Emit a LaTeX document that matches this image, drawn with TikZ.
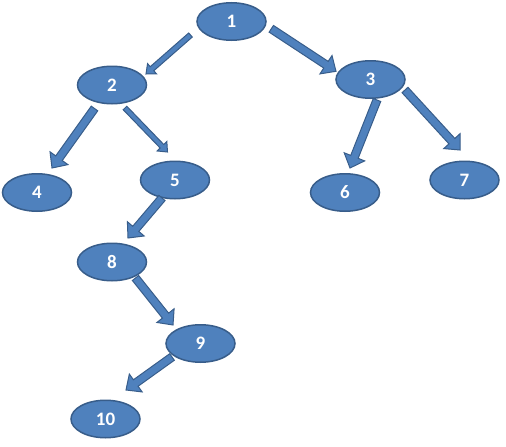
\documentclass[tikz,border=0pt]{standalone}
\usepackage{fontspec}
\setmainfont{Carlito}
\usetikzlibrary{shapes.geometric,calc}
\definecolor{nodefill}{HTML}{4F81BD}
\definecolor{nodeline}{HTML}{385D8A}
\tikzset{
  tnode/.style={ellipse, fill=nodefill, draw=nodeline, line width=1.5pt,
    minimum width=69pt, minimum height=37.5pt, inner sep=0pt,
    text=white, font=\bfseries\fontsize{19}{22}\selectfont},
  conn/.style={fill=nodefill, draw=nodeline, line width=1pt, line join=miter}
}
% block arrow: from, to, half shaft width, half head width, head length
\newcommand{\blockarrow}[5]{%
  \coordinate (ba-n) at ($(#2)!#5!(#1)$);
  \draw[conn] ($(#1)!#3!90:(#2)$) -- ($(ba-n)!#3!90:(#2)$) -- ($(ba-n)!#4!90:(#2)$)
    -- (#2) -- ($(ba-n)!#4!-90:(#2)$) -- ($(ba-n)!#3!-90:(#2)$)
    -- ($(#1)!#3!-90:(#2)$) -- cycle;}
\begin{document}
\begin{tikzpicture}[x=1pt,y=-1pt]
\useasboundingbox (0,0) rectangle (506,447);
\node[tnode] (n1) at (231.5,21.5) {1};
\node[tnode] (n2) at (112,85) {2};
\node[tnode] (n3) at (370.5,79.5) {3};
\node[tnode] (n4) at (37,192.5) {4};
\node[tnode] (n5) at (175,180) {5};
\node[tnode] (n6) at (345,192.5) {6};
\node[tnode] (n7) at (464.5,180) {7};
\node[tnode] (n8) at (112,262) {8};
\node[tnode] (n9) at (200.5,343.5) {9};
\node[tnode] (n10) at (105.5,419) {10};
% arrow end points
\coordinate (t12) at (190.5,35);  \coordinate (h12) at (146,74);
\coordinate (t13) at (271.3,28.8); \coordinate (h13) at (336,71.3);
\coordinate (t24) at (94.5,108.5); \coordinate (h24) at (52,168);
\coordinate (t25) at (125,108);    \coordinate (h25) at (167.5,152);
\coordinate (t36) at (377,100);    \coordinate (h36) at (350,168);
\coordinate (t37) at (405,90);     \coordinate (h37) at (460,150);
\coordinate (t58) at (162,198);    \coordinate (h58) at (128,238);
\coordinate (t89) at (135.5,278);  \coordinate (h89) at (173,325);
\coordinate (t910) at (172,357);   \coordinate (h910) at (126,390);
\blockarrow{t12}{h12}{2.7pt}{6.8pt}{8pt}
\blockarrow{t25}{h25}{2.5pt}{6.8pt}{8pt}
\blockarrow{t13}{h13}{4pt}{11pt}{12pt}
\blockarrow{t24}{h24}{4pt}{11pt}{12pt}
\blockarrow{t36}{h36}{4pt}{11pt}{12pt}
\blockarrow{t37}{h37}{4pt}{11pt}{12pt}
\blockarrow{t58}{h58}{4pt}{11pt}{12pt}
\blockarrow{t89}{h89}{4pt}{11pt}{12pt}
\blockarrow{t910}{h910}{4pt}{11pt}{12pt}
\end{tikzpicture}
\end{document}
